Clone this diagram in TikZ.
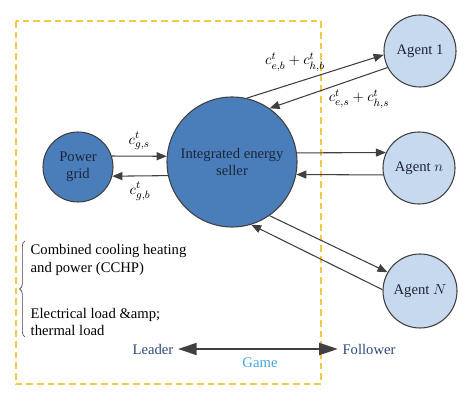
\documentclass[tikz,border=0pt]{standalone}
\usepackage{fontspec}
\setmainfont{Liberation Serif}
\usepackage{amsmath}
\usetikzlibrary{arrows.meta, decorations.pathreplacing}
\definecolor{sellerblue}{HTML}{4A7EBB}
\definecolor{agentblue}{HTML}{C6D9EE}
\definecolor{boxyellow}{HTML}{F3C94A}
\definecolor{leaderblue}{HTML}{2E4A7A}
\definecolor{gameblue}{HTML}{3FA6DE}
\definecolor{linegray}{HTML}{404040}
\definecolor{inktext}{HTML}{1C2536}
\tikzset{
  bigdisc/.style={circle, fill=sellerblue, draw=linegray, line width=0.8pt, align=center, text=inktext, inner sep=0pt},
  agentdisc/.style={circle, fill=agentblue, draw=linegray, line width=0.8pt, minimum size=54pt, text=inktext, inner sep=0pt},
  flow/.style={draw=linegray, line width=0.8pt, -{Triangle[length=7.5pt,width=6pt]}},
  gamearrow/.style={draw=linegray, line width=1.5pt, {Triangle[length=14pt,width=9pt]}-{Triangle[length=14pt,width=9pt]}},
}

\begin{document}
\begin{tikzpicture}[x=0.75pt, y=-0.75pt, font=\fontsize{11}{13}\selectfont]
\useasboundingbox (0,0) rectangle (474,402);

% leader side
\draw[boxyellow, line width=0.8pt, dash pattern=on 5pt off 3pt] (16,21) rectangle (321,384);

\node[bigdisc, minimum size=52.5pt] (grid) at (78,167) {Power\\grid};
\node[bigdisc, minimum size=97.5pt] (seller) at (232,162) {Integrated energy\\seller};

% followers
\node[agentdisc] (agent1) at (420,51) {Agent 1};
\node[agentdisc] (agentn) at (419,168) {Agent $n$};
\node[agentdisc, minimum size=55.5pt] (agentN) at (420,291) {Agent $N$};

\draw[flow] (grid.18) -- (seller.175) node[midway, above=1pt] (gs) {$c^{t}_{g,s}$};
\draw[flow] (seller.192) -- (grid.-15) node[midway, below=1pt] (gb) {$c^{t}_{g,b}$};

\draw[flow] (seller.77) -- (agent1.186);
\draw[flow] (agent1.207) -- (seller.55);
\node (buy) at (295,62) {$c^{t}_{e,b}+c^{t}_{h,b}$};
\node (sell) at (359,99) {$c^{t}_{e,s}+c^{t}_{h,s}$};

\draw[flow] (seller.8) -- (agentn.155);
\draw[flow] (agentn.191) -- (seller.-11.5);
\draw[flow] (seller.-55) -- (agentN.150);
\draw[flow] (agentN.178) -- (seller.-73);

% side notes
\draw[linegray, line width=0.5pt, decorate, decoration={brace, amplitude=4pt}] (25,337) -- (25,241);
\node[anchor=west, align=left] (cchp) at (26,260) {Combined cooling heating\\and power (CCHP)};
\node[anchor=west, align=left] (load) at (26,322) {Electrical load \&amp;\\thermal load};

\node[text=leaderblue] (leader) at (153,349) {Leader};
\node[text=leaderblue] (follower) at (369,349) {Follower};
\draw[gamearrow] (leader.east) -- (follower.west);
\node[text=gameblue] (game) at (260,363) {Game};

\end{tikzpicture}
\end{document}
